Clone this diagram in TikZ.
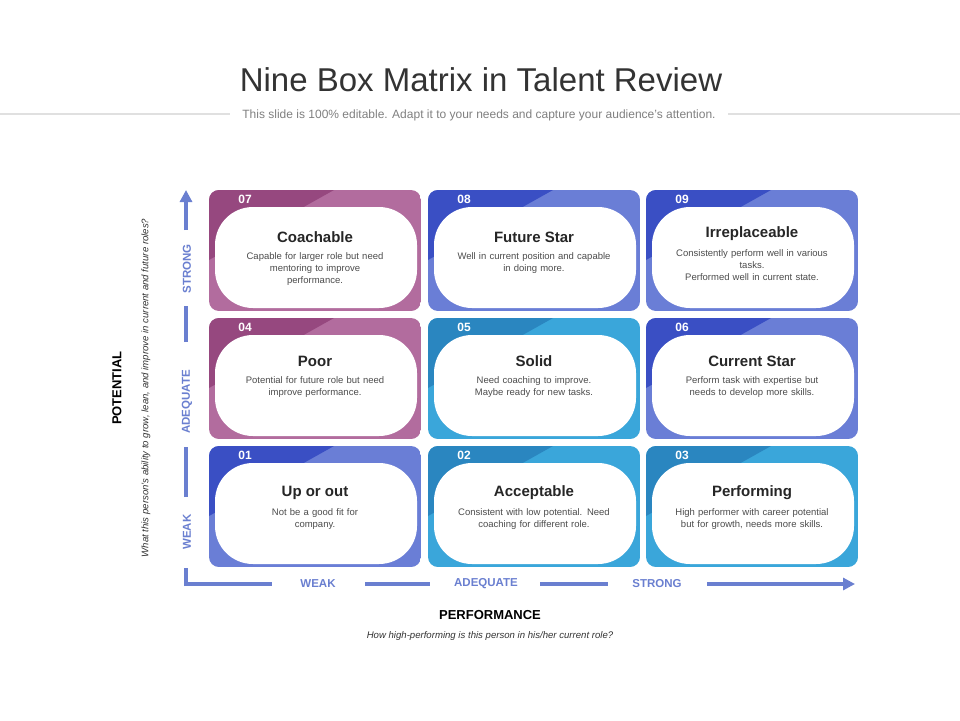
\documentclass[tikz,border=0pt]{standalone}
\usepackage{fontspec}
\usetikzlibrary{arrows.meta}
\setmainfont{Liberation Sans}
\begin{document}
\begin{tikzpicture}[x=1pt,y=-1pt,
  ttl/.style={font=\fontsize{15}{17}\selectfont\bfseries,text=black!85},
  dsc/.style={font=\fontsize{9.5}{12}\selectfont,text=black!70,align=center,text width=190pt},
  num/.style={font=\fontsize{12}{14}\selectfont\bfseries,text=white},
  axl/.style={font=\fontsize{11.5}{13}\selectfont\bfseries,text=axc},
  ax/.style={draw=axc,line width=4pt}]
\definecolor{axc}{HTML}{6A7FD0}
\definecolor{pD}{HTML}{96487F}\definecolor{pL}{HTML}{B26C9E}
\definecolor{bD}{HTML}{3A4FC4}\definecolor{bL}{HTML}{6A7ED6}
\definecolor{tD}{HTML}{2A86C0}\definecolor{tL}{HTML}{3AA6DA}
\useasboundingbox (0,0) rectangle (960,720);
\fill[white] (0,0) rectangle (960,720);
\node[font=\fontsize{33}{38}\selectfont,text=black!80] (title) at (481,80) {Nine Box Matrix in Talent Review};
\node[font=\fontsize{12}{14}\selectfont,text=black!50] (sub) at (479,115) {This slide is 100\% editable. Adapt it to your needs and capture your audience's attention.};
\draw[black!12,line width=2pt] (0,114) -- (230,114) (728,114) -- (960,114);
% boxes
\newcommand\nbox[9]{%
  \begin{scope}
   \clip[rounded corners=10pt] (#1,#2) rectangle ++(212,121);
   \fill[#4] (#1,#2) rectangle ++(212,121);
   \fill[#3] (#1,#2) -- ++(125,0) -- ++(-125,70) -- cycle;
  \end{scope}
  \node[num] (#8n) at (#1+36,#2+9) {#5};
  \fill[white,rounded corners=38pt] (#1+6,#2+17) rectangle ++(202,101);
  \node[ttl] (#8t) at (#1+106,#2+47+#9) {#6};
  \node[dsc,anchor=north] (#8d) at (#1+106,#2+59+#9) {#7};
}
\nbox{209}{190}{pD}{pL}{07}{Coachable}{Capable for larger role but need\\mentoring to improve\\performance.}{b7}{0}
\nbox{428}{190}{bD}{bL}{08}{Future Star}{Well in current position and capable\\in doing more.}{b8}{0}
\nbox{646}{190}{bD}{bL}{09}{Irreplaceable}{Consistently perform well in various\\tasks.\\Performed well in current state.}{b9}{-3}
\nbox{209}{318}{pD}{pL}{04}{Poor}{Potential for future role  but need\\improve performance.}{b4}{-4}
\nbox{428}{318}{tD}{tL}{05}{Solid}{Need coaching to improve.\\Maybe ready for new tasks.}{b5}{-4}
\nbox{646}{318}{bD}{bL}{06}{Current Star}{Perform task with expertise but\\needs to develop more skills.}{b6}{-4}
\nbox{209}{446}{bD}{bL}{01}{Up or out}{Not be a good fit for\\company.}{b1}{0}
\nbox{428}{446}{tD}{tL}{02}{Acceptable}{Consistent with low potential. Need\\coaching for different role.}{b2}{0}
\nbox{646}{446}{tD}{tL}{03}{Performing}{High performer with career potential\\but for growth, needs more skills.}{b3}{0}
% axes
\coordinate (ytop) at (186,190);
\coordinate (xend) at (855,584);
\draw[ax] (186,586) -- (186,568) (186,497) -- (186,447) (186,342) -- (186,306);
\draw[axc,line width=4pt,-{Triangle[width=12pt,length=12pt]}] (186,230) -- (ytop);
\draw[ax] (184,584) -- (272,584) (365,584) -- (430,584) (540,584) -- (608,584);
\draw[axc,line width=4pt,-{Triangle[width=12pt,length=12pt]}] (707,584) -- (xend);
\node[axl,rotate=90] (yw) at (187,532) {WEAK};
\node[axl,rotate=90] (ya) at (187,402) {ADEQUATE};
\node[axl,rotate=90] (ys) at (187,269) {STRONG};
\node[axl] (xw) at (318,584) {WEAK};
\node[axl] (xa) at (486,584) {ADEQUATE};
\node[axl] (xs) at (657,584) {STRONG};
\node[font=\fontsize{13}{15}\selectfont\bfseries,rotate=90] (pot) at (117,388) {POTENTIAL};
\node[font=\fontsize{9.6}{11}\selectfont\itshape,text=black!80,rotate=90] (potd) at (146,388) {What this person's ability to grow, lean, and improve in current and future roles?};
\node[font=\fontsize{13}{15}\selectfont\bfseries] (perf) at (490,615) {PERFORMANCE};
\node[font=\fontsize{9.6}{11}\selectfont\itshape,text=black!80] (perfd) at (490,636) {How high-performing is this person in his/her current role?};
\end{tikzpicture}
\end{document}
